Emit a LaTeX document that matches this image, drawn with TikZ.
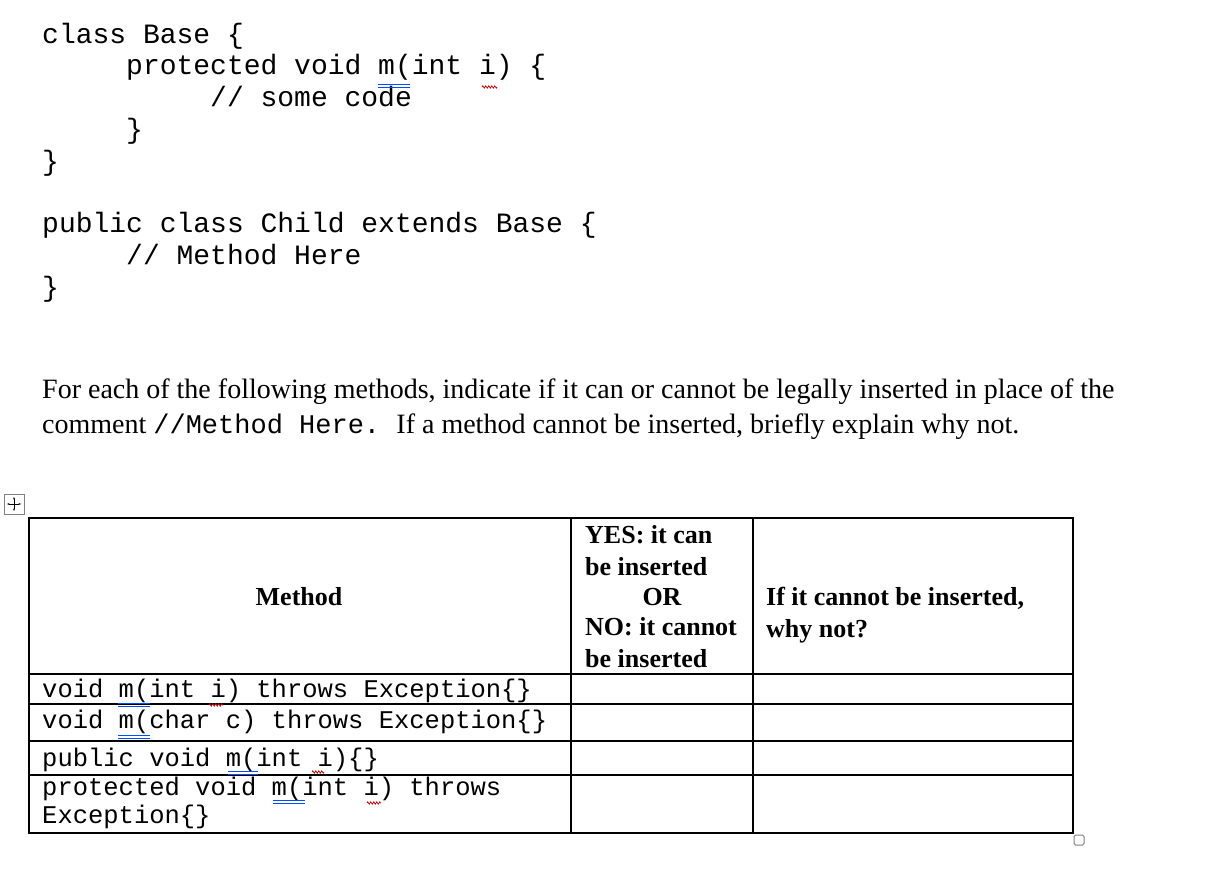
\documentclass[tikz,border=0pt]{standalone}
\usepackage{fontspec}
\setmainfont{Liberation Serif}
\setmonofont{Liberation Mono}
\usetikzlibrary{decorations.pathmorphing,arrows.meta}
\begin{document}
\begin{tikzpicture}[x=1pt,y=-1pt,
  code/.style={anchor=base west,inner sep=0pt,font=\fontsize{28}{30}\selectfont\ttfamily},
  tcode/.style={anchor=base west,inner sep=0pt,font=\fontsize{25.5}{28}\selectfont\ttfamily},
  txt/.style={anchor=base west,inner sep=0pt,font=\fontsize{28}{32}\selectfont},
  hd/.style={anchor=base west,inner sep=0pt,font=\fontsize{26}{28}\selectfont\bfseries},
  grid/.style={line width=1.3pt},
  blu/.style={draw=blue!70!cyan,line width=0.8pt},
  red/.style={draw=red!80!black,line width=0.7pt,decorate,decoration={zigzag,amplitude=1.2pt,segment length=3pt}}]
\useasboundingbox (0,0) rectangle (1226,890);
\node[code] (c1) at (42,44) {class Base \{};
\node[code] (c2) at (126,75) {protected void m(int i) \{};
\node[code] (c3) at (210,107) {// some code};
\node[code] (c4) at (126,139) {\}};
\node[code] (c5) at (42,171) {\}};
\node[code] (c6) at (42,233) {public class Child extends Base \{};
\node[code] (c7) at (126,265) {// Method Here};
\node[code] (c8) at (42,297) {\}};
\node[txt] (p1) at (42,399) {For each of the following methods, indicate if it can or cannot be legally inserted in place of the};
\node[txt] (p2) at (42,433) {comment \fontsize{27}{30}\selectfont\ttfamily //Method Here.\ \rmfamily\fontsize{28}{32}\selectfont If a method cannot be inserted, briefly explain why not.};
% table
\draw[grid] (29,518) rectangle (1073,833);
\draw[grid] (571,518) -- (571,833) (753,518) -- (753,833);
\foreach \yy in {674,704,741,775} \draw[grid] (29,\yy) -- (1073,\yy);
\node[hd,anchor=base] (h1) at (299,605) {Method};
\node[hd] (h2) at (585,543) {YES: it can};
\node[hd] (h3) at (585,575) {be inserted};
\node[hd,anchor=base] (h4) at (662,605) {OR};
\node[hd] (h5) at (585,635) {NO: it cannot};
\node[hd] (h6) at (585,667) {be inserted};
\node[hd] (h7) at (766,605) {If it cannot be inserted,};
\node[hd] (h8) at (766,637) {why not?};
\node[tcode] (r1) at (42,697) {void m(int i) throws Exception\{\}};
\node[tcode] (r2) at (42,728) {void m(char c) throws Exception\{\}};
\node[tcode] (r3) at (42,766) {public void m(int i)\{\}};
\node[tcode] (r4) at (42,795) {protected void m(int i) throws};
\node[tcode] (r5) at (42,823) {Exception\{\}};
% spelling marks
\foreach \a/\b/\yy in {378/410/84,118/150/703,118/150/735,228/258/771,273/305/800}{
  \draw[blu] (\a,\yy) -- (\b,\yy) (\a,\yy+3) -- (\b,\yy+3);}
\foreach \a/\b/\yy in {482/497/87,209/223/705,312/324/772,367/381/803}{
  \draw[red] (\a,\yy) -- (\b,\yy);}
% handles
\draw[gray,line width=0.8pt] (4,494) rectangle (24,514);
\draw[black,line width=0.7pt,{Stealth[length=2.5pt]}-{Stealth[length=2.5pt]}] (7,504) -- (21,504);
\draw[black,line width=0.7pt,{Stealth[length=2.5pt]}-{Stealth[length=2.5pt]}] (14,497) -- (14,511);
\draw[gray,line width=1pt,rounded corners=1.5pt] (1074,835) rectangle (1084,845);
\end{tikzpicture}
\end{document}
